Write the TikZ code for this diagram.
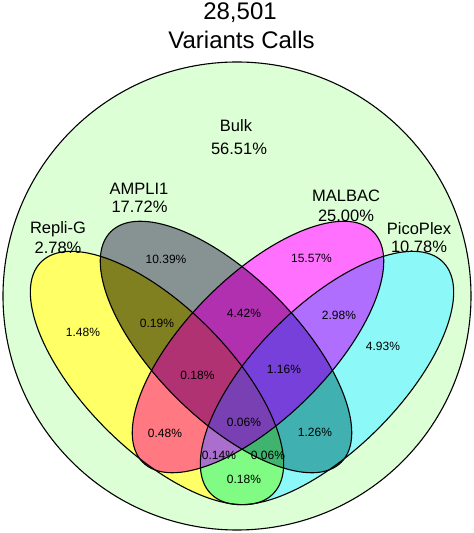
\documentclass[tikz,border=0pt]{standalone}
\usepackage{fontspec}
\setmainfont{Liberation Sans}
\definecolor{bulkc}{HTML}{DDFFD6}
\definecolor{cA}{HTML}{FFFF66}
\definecolor{cB}{HTML}{879393}
\definecolor{cC}{HTML}{FF70FF}
\definecolor{cD}{HTML}{8CF8F8}
\definecolor{cAB}{HTML}{808020}
\definecolor{cAC}{HTML}{FF7882}
\definecolor{cAD}{HTML}{80FC84}
\definecolor{cBC}{HTML}{B030B0}
\definecolor{cBD}{HTML}{40B0B0}
\definecolor{cCD}{HTML}{B06EFF}
\definecolor{cABC}{HTML}{B03272}
\definecolor{cABD}{HTML}{40B46E}
\definecolor{cACD}{HTML}{AA6ECC}
\definecolor{cBCD}{HTML}{7840DA}
\definecolor{cABCD}{HTML}{7840B2}
\tikzset{
  outline/.style={draw=black, line width=1.1pt},
  reglab/.style={font=\fontsize{12}{14}\selectfont, inner sep=0pt},
  setlab/.style={font=\fontsize{16.5}{19}\selectfont, inner sep=0pt, anchor=base},
  titlelab/.style={font=\fontsize{24}{28}\selectfont, inner sep=0pt, anchor=base}
}
\begin{document}
\begin{tikzpicture}[x=1pt,y=1pt]
\def\pA{(157,155) circle [x radius=164, y radius=72, rotate=-45]}
\def\pB{(226,186) circle [x radius=163, y radius=71, rotate=-45]}
\def\pC{(258,186) circle [x radius=163, y radius=71, rotate=45]}
\def\pD{(327,155) circle [x radius=164, y radius=72, rotate=45]}
\useasboundingbox (0,0) rectangle (474,533);
\fill[white] (0,0) rectangle (474,533);
% bulk circle
\fill[bulkc] (237,237) circle [radius=234];
% singles
\fill[cA] \pA;
\fill[cB] \pB;
\fill[cC] \pC;
\fill[cD] \pD;
% pairs
\begin{scope}\clip \pA; \fill[cAB] \pB; \end{scope}
\begin{scope}\clip \pA; \fill[cAC] \pC; \end{scope}
\begin{scope}\clip \pA; \fill[cAD] \pD; \end{scope}
\begin{scope}\clip \pB; \fill[cBC] \pC; \end{scope}
\begin{scope}\clip \pB; \fill[cBD] \pD; \end{scope}
\begin{scope}\clip \pC; \fill[cCD] \pD; \end{scope}
% triples
\begin{scope}\clip \pA; \clip \pB; \fill[cABC] \pC; \end{scope}
\begin{scope}\clip \pA; \clip \pB; \fill[cABD] \pD; \end{scope}
\begin{scope}\clip \pA; \clip \pC; \fill[cACD] \pD; \end{scope}
\begin{scope}\clip \pB; \clip \pC; \fill[cBCD] \pD; \end{scope}
% quadruple
\begin{scope}\clip \pA; \clip \pB; \clip \pC; \fill[cABCD] \pD; \end{scope}
% outlines
\draw[outline] (237,237) circle [radius=234];
\draw[outline] \pA;
\draw[outline] \pB;
\draw[outline] \pC;
\draw[outline] \pD;
% title
\node[titlelab] (t1) at (240,513) {28,501};
\node[titlelab] (t2) at (241.5,484) {Variants Calls};
% set labels
\node[setlab] (bulk1) at (236,401) {Bulk};
\node[setlab] (bulk2) at (239,378) {56.51\%};
\node[setlab] (amp1) at (139,338) {AMPLI1};
\node[setlab] (amp2) at (139.5,320) {17.72\%};
\node[setlab] (rep1) at (58,299) {Repli-G};
\node[setlab] (rep2) at (58,279) {2.78\%};
\node[setlab] (mal1) at (346,331) {MALBAC};
\node[setlab] (mal2) at (346,311) {25.00\%};
\node[setlab] (pico1) at (419,298) {PicoPlex};
\node[setlab] (pico2) at (419,280) {10.78\%};
% region labels
\node[reglab] (rB) at (166,274) {10.39\%};
\node[reglab] (rAB) at (157,210) {0.19\%};
\node[reglab] (rA) at (83,201) {1.48\%};
\node[reglab] (rBC) at (244,220) {4.42\%};
\node[reglab] (rC) at (311.5,275) {15.57\%};
\node[reglab] (rCD) at (339,218) {2.98\%};
\node[reglab] (rD) at (383,187) {4.93\%};
\node[reglab] (rABC) at (197.5,158) {0.18\%};
\node[reglab] (rBCD) at (284,164) {1.16\%};
\node[reglab] (rABCD) at (244,111) {0.06\%};
\node[reglab] (rAC) at (165,100) {0.48\%};
\node[reglab] (rBD) at (315,101) {1.26\%};
\node[reglab] (rACD) at (219,78) {0.14\%};
\node[reglab] (rABD) at (268,78) {0.06\%};
\node[reglab] (rAD) at (244,54) {0.18\%};
\end{tikzpicture}
\end{document}
